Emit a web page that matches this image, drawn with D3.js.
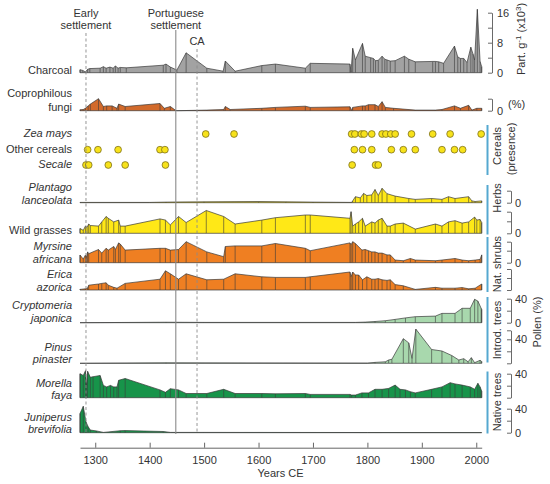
<!DOCTYPE html>
<html><head><meta charset="utf-8">
<script src="https://cdn.jsdelivr.net/npm/d3@7"></script>
<style>
body{margin:0;background:#fff}
svg{display:block}
text{font-family:"Liberation Sans",Arial,Helvetica,sans-serif;fill:#333}
</style>
</head><body>
<svg id="c" width="550" height="484"></svg>
<script>
// ---------------- DATA ----------------
const yearTicks = [1300,1400,1500,1600,1700,1800,1900,2000];
const events = [["Early","settlement",1283],["Portuguese","settlement",1448],["CA","",1487]];

// charcoal, particles g-1 (x10^3)
const charcoal = [[1272,0.8],[1277,0.6],[1282,0.2],[1286,0.9],[1290,1.1],[1309,1.2],[1315,1.6],[1320,1.2],[1327,1.5],[1333,1.2],[1337,1.8],[1342,1.2],[1346,1.4],[1357,1.3],[1425,2.0],[1430,2.3],[1438,1.5],[1450,0.7],[1467,5.3],[1505,1.2],[1535,0.4],[1539,3.1],[1557,0.4],[1606,1.9],[1631,2.3],[1686,1.2],[1695,2.5],[1768,2.3],[1770,0.2],[1773,6.5],[1778,3.4],[1791,7.8],[1796,4.4],[1806,4.0],[1811,3.8],[1815,3.2],[1820,3.3],[1827,4.4],[1832,3.6],[1836,3.4],[1842,3.1],[1851,3.2],[1868,4.4],[1876,3.6],[1888,2.9],[1920,3.0],[1925,3.0],[1931,2.9],[1940,2.5],[1960,7.1],[1966,4.2],[1971,3.8],[1977,3.8],[1983,2.7],[1990,6.8],[1994,5.0],[1997,3.4],[2002,16.9],[2007,3.0],[2010,1.6]];

// coprophilous fungi (%)
const fungi = [[1272,1.5],[1278,2],[1282,4],[1287,8],[1291,11],[1306,20],[1315,7],[1321,8],[1331,8],[1340,4],[1343,11],[1355,7],[1419,12],[1427,4],[1438,7],[1447,1],[1450,0],[1505,1],[1536,2],[1539,7],[1548,2],[1606,4],[1631,5.5],[1686,7.5],[1695,5.5],[1768,6.5],[1771,0.5],[1773,5.5],[1791,8],[1796,8],[1802,10],[1814,10],[1820,7],[1827,15],[1833,5.5],[1848,4],[1888,1],[1925,1],[1937,2],[1960,8],[1971,4],[1986,9],[1992,1],[2001,4],[2010,4]];

// cereals (presence, years)
const zeaMays = [1503,1555,1771,1777,1789,1794,1808,1827,1834,1843,1851,1881,1920,1952,2009];
const otherCereals = [1286,1305,1342,1419,1428,1776,1791,1808,1844,1866,1888,1937,1960,1975];
const secale = [1283,1288,1324,1355,1429,1772,1815,1820];

// pollen (%)
const plantago = [[1272,0.5],[1400,0.5],[1430,1],[1500,1.5],[1600,2],[1650,1.5],[1700,1],[1771,0.5],[1773,3],[1778,10],[1787,8],[1793,15.5],[1799,12],[1808,13],[1814,22],[1820,12],[1827,24],[1836,15],[1851,11],[1876,7],[1888,5.5],[1918,7],[1937,5.5],[1949,10],[1961,7],[1986,10],[1992,3],[1998,2],[2010,3]];
const wildGrasses = [[1272,8],[1278,5],[1282,12],[1285,10],[1288,15.5],[1291,13],[1306,12],[1312,19],[1320,28],[1324,25],[1334,19],[1343,22],[1346,12],[1355,12],[1419,24],[1429,22],[1438,14],[1453,28],[1467,18],[1504,38],[1536,28],[1557,15.5],[1606,22],[1631,26],[1686,30.5],[1695,30.5],[1768,25],[1770,36],[1773,12],[1778,15.5],[1784,19],[1791,25],[1796,12],[1808,19],[1814,17],[1820,22],[1827,25],[1836,12],[1842,12],[1851,15.5],[1866,17],[1888,7],[1925,15.5],[1937,12],[1949,19],[1961,21],[1974,17],[1986,19],[1997,27],[2001,22],[2007,23],[2010,18]];
const myrsine = [[1272,12.8],[1278,6],[1282,12.8],[1284,9],[1286,18],[1288,15],[1306,22],[1312,16],[1320,24],[1324,21],[1334,27],[1337,22],[1343,33],[1346,31],[1355,21],[1419,24],[1429,24],[1438,21],[1453,22],[1467,35],[1505,18],[1536,10],[1539,27],[1557,28],[1606,28],[1631,32],[1686,24],[1695,20],[1768,33],[1770,30],[1773,35],[1778,32],[1790,21],[1796,22],[1802,20],[1808,18],[1814,18],[1820,16],[1827,16],[1836,13],[1842,13],[1851,4.4],[1866,3.3],[1879,7],[1888,4.4],[1925,3.3],[1937,4.4],[1961,7],[1974,4.4],[1986,3.3],[1998,4.4],[2007,5.5],[2010,13]];
const erica = [[1272,1],[1282,2],[1286,3.3],[1288,8],[1306,10],[1312,11],[1320,12],[1324,8],[1334,4.4],[1340,3],[1355,11],[1419,18],[1429,32],[1438,27],[1453,18],[1467,27],[1505,17],[1536,18],[1557,27],[1606,22],[1631,21],[1686,21],[1695,22],[1768,30],[1770,22],[1773,30],[1778,25],[1784,25],[1791,17],[1799,22],[1808,18],[1814,18],[1820,19],[1827,17],[1836,16],[1842,17],[1851,9],[1866,7],[1888,1],[1925,4.4],[1937,3],[1961,3],[1974,4],[1986,2],[1998,3],[2010,10]];
const cryptomeria = [[1272,0],[1430,0.8],[1500,0.5],[1778,0.5],[1796,1],[1814,2],[1833,3.3],[1851,5.5],[1870,8],[1888,10],[1925,11],[1937,15.5],[1961,15.5],[1974,24],[1989,24],[1997,39],[2003,36],[2009,24],[2010,22]];
const pinus = [[1272,0],[1430,0.8],[1800,0.3],[1814,1.5],[1833,2.5],[1839,5.5],[1845,6.7],[1866,41],[1876,34],[1882,8],[1889,57],[1918,23],[1937,20.5],[1955,13],[1968,5.5],[1977,7.7],[1985,2.5],[1991,9.4],[1997,1],[2007,5],[2010,3]];
const morella = [[1272,40],[1278,37],[1282,45],[1284,20],[1286,44],[1291,34],[1296,35],[1309,37],[1315,20.5],[1321,18],[1328,20.5],[1334,18],[1340,18],[1343,29],[1355,32],[1419,13],[1429,9],[1438,15],[1453,13],[1467,7],[1505,7],[1536,14],[1557,7],[1606,7],[1631,6.5],[1686,7],[1695,5.5],[1768,5.5],[1771,4.4],[1778,4.4],[1790,8],[1802,8],[1814,14],[1827,14],[1839,15.5],[1851,21],[1860,14],[1870,13],[1879,10],[1888,8],[1918,14],[1937,18],[1952,25],[1961,23],[1974,21],[1989,18],[1997,14],[2003,24],[2007,18],[2010,11]];
const juniperus = [[1272,32],[1278,44],[1283,18],[1287,10],[1291,4.4],[1302,3],[1315,0.5],[1346,3.3],[1355,3.5],[1425,2],[1438,0.5],[1500,0.5],[1800,0.3],[2010,0.2]];

// ---------------- LAYOUT ----------------
const svg = d3.select("#c");
const x = d3.scaleLinear().domain([1272,2010]).range([80,481.7]);
const ink = "#3a3a3a";
const FS = 11;

const panels = [
  {lab:["Charcoal"], it:false, data:charcoal, base:72.7, unit:16, px:60, fill:"#a2a2a2", ax:492, axMax:16, ticks:[0,4,8,12,16], show:[0,8,16], pad:5},
  {lab:["Coprophilous","fungi"], it:false, data:fungi, base:110.7, unit:40, px:24, fill:"#d26a2b", ax:492, axMax:20, ticks:[0,20], show:[0], pad:5},
  {lab:["Plantago","lanceolata"], it:true, data:plantago, base:202.7, unit:40, px:24, fill:"#ffe817", ax:511, axMax:20, ticks:[0,20], show:[0], pad:4},
  {lab:["Wild grasses"], it:false, data:wildGrasses, base:233.3, unit:40, px:24, fill:"#ffe817", ax:511, axMax:36, ticks:[0,20,36], show:[0], pad:4},
  {lab:["Myrsine","africana"], it:true, data:myrsine, base:262.7, unit:40, px:24, fill:"#ef7f22", ax:511, axMax:35, ticks:[0,20,35], show:[0], pad:4},
  {lab:["Erica","azorica"], it:true, data:erica, base:290, unit:40, px:24, fill:"#ef7f22", ax:511, axMax:35, ticks:[0,20,35], show:[], pad:4},
  {lab:["Cryptomeria","japonica"], it:true, data:cryptomeria, base:322.7, unit:40, px:24, fill:"#a8d8ad", ax:511, axMax:40, ticks:[0,20,40], show:[0,40], pad:4},
  {lab:["Pinus","pinaster"], it:true, data:pinus, base:363.3, unit:40, px:24, fill:"#a8d8ad", ax:511, axMax:55, ticks:[0,20,40,55], show:[40], pad:4},
  {lab:["Morella","faya"], it:true, data:morella, base:397.7, unit:40, px:24, fill:"#17944a", ax:511, axMax:40, ticks:[0,20,40], show:[40], pad:4},
  {lab:["Juniperus","brevifolia"], it:true, data:juniperus, base:432.7, unit:40, px:24, fill:"#17944a", ax:511, axMax:40, ticks:[0,20,40], show:[0,40], pad:4}
];
const labelCenters = {
  "Charcoal":[70], "Coprophilous fungi":[93,107], "Plantago lanceolata":[186.7,200],
  "Wild grasses":[230], "Myrsine africana":[246,258.5], "Erica azorica":[274.3,286.5],
  "Cryptomeria japonica":[305,318.3], "Pinus pinaster":[346.7,359.3],
  "Morella faya":[382.7,395], "Juniperus brevifolia":[416.7,428.5]
};

const gAreas = svg.append("g");
panels.forEach(p => {
  const y = d3.scaleLinear().domain([0,p.unit]).range([p.base, p.base - p.px]);
  const area = d3.area().x(d => x(d[0])).y0(p.base).y1(d => y(d[1]));
  const g = gAreas.append("g");
  g.append("path").datum(p.data).attr("d", area)
    .attr("fill", p.fill).attr("stroke", ink).attr("stroke-width", 0.7).attr("stroke-linejoin","round");
  g.selectAll("line.s").data(p.data).join("line").attr("class","s")
    .attr("x1", d => x(d[0])).attr("x2", d => x(d[0]))
    .attr("y1", p.base).attr("y2", d => y(d[1]))
    .attr("stroke", ink).attr("stroke-width", 0.6);
  // right axis
  const ya = d3.scaleLinear().domain([0,p.axMax]).range([p.base, y(p.axMax)]);
  const ag = svg.append("g").attr("transform", `translate(${p.ax},0)`)
    .call(d3.axisRight(ya).tickValues(p.ticks).tickSizeInner(-4).tickSizeOuter(0).tickPadding(p.pad)
      .tickFormat(d => p.show.includes(d) ? d : ""));
  ag.selectAll("path,line").attr("stroke", "#444").attr("stroke-width", 0.8);
  ag.selectAll("text").attr("font-size", FS).attr("fill", "#333")
    .attr("font-family", '"Liberation Sans",Arial,sans-serif');
  // left label
  const key = p.lab.join(" ");
  p.lab.forEach((t,i) => {
    svg.append("text").attr("x", 72).attr("y", labelCenters[key][i] + 4)
      .attr("text-anchor","end").attr("font-size", FS)
      .attr("font-style", p.it ? "italic" : "normal").text(t);
  });
});

// cereals
const cereals = [["Zea mays", true, zeaMays, 134], ["Other cereals", false, otherCereals, 149.7], ["Secale", true, secale, 165]];
const cLabelY = [132.7, 149.3, 164.3];
cereals.forEach((c,i) => {
  svg.append("g").selectAll("circle").data(c[2]).join("circle")
    .attr("cx", d => x(d)).attr("cy", c[3]).attr("r", 3.4)
    .attr("fill", "#f7e21b").attr("stroke", "#6e6216").attr("stroke-width", 0.7);
  svg.append("text").attr("x", 72).attr("y", cLabelY[i] + 4).attr("text-anchor","end")
    .attr("font-size", FS).attr("font-style", c[1] ? "italic" : "normal").text(c[0]);
});

// event lines
const evX = events.map(e => x(e[2]));
svg.append("line").attr("x1",evX[0]).attr("x2",evX[0]).attr("y1",33).attr("y2",434)
  .attr("stroke","#8a8a8a").attr("stroke-width",0.9).attr("stroke-dasharray","3,2.5");
svg.append("line").attr("x1",evX[1]).attr("x2",evX[1]).attr("y1",30).attr("y2",434)
  .attr("stroke","#8a8a8a").attr("stroke-width",1.1);
svg.append("line").attr("x1",evX[2]).attr("x2",evX[2]).attr("y1",49).attr("y2",434)
  .attr("stroke","#8a8a8a").attr("stroke-width",0.9).attr("stroke-dasharray","3,2.5");
events.forEach((e,i) => {
  if (i < 2) {
    svg.append("text").attr("x", evX[i]).attr("y", 17).attr("text-anchor","middle").attr("font-size",FS).text(e[0]);
    svg.append("text").attr("x", evX[i]).attr("y", 28.5).attr("text-anchor","middle").attr("font-size",FS).text(e[1]);
  } else {
    svg.append("text").attr("x", evX[i]).attr("y", 45).attr("text-anchor","middle").attr("font-size",FS).text(e[0]);
  }
});

// bottom axis
const bx = svg.append("g").attr("transform","translate(0,447.7)")
  .call(d3.axisBottom(x).tickValues(yearTicks).tickSizeInner(-5).tickSizeOuter(0).tickPadding(9).tickFormat(d3.format("d")));
bx.selectAll("path,line").attr("stroke","#555").attr("stroke-width",0.9);
bx.selectAll("text").attr("font-size",FS).attr("fill","#333").attr("font-family",'"Liberation Sans",Arial,sans-serif');
svg.append("text").attr("x",280.5).attr("y",477).attr("text-anchor","middle").attr("font-size",FS).text("Years CE");

// blue group brackets
const blue = "#55a8d0";
const groups = [
  {y0:125, y1:175, lines:[["Cereals",497.5,146],["(presence)",511,149]]},
  {y0:185, y1:234.5, lines:[["Herbs",497.5,198]]},
  {y0:237, y1:292, lines:[["Nat. shrubs",497.5,264]]},
  {y0:297, y1:362.5, lines:[["Introd. trees",497.5,330]]},
  {y0:371.5, y1:433.5, lines:[["Native trees",497.5,402]]}
];
groups.forEach(gr => {
  svg.append("line").attr("x1",487.5).attr("x2",487.5).attr("y1",gr.y0).attr("y2",gr.y1)
    .attr("stroke",blue).attr("stroke-width",2);
  gr.lines.forEach(l => {
    svg.append("text").attr("transform",`translate(${l[1]},${l[2]}) rotate(-90)`)
      .attr("text-anchor","middle").attr("dy","0.35em").attr("font-size",FS).text(l[0]);
  });
});
svg.append("text").attr("transform","translate(537,322) rotate(-90)")
  .attr("text-anchor","middle").attr("dy","0.35em").attr("font-size",FS).text("Pollen (%)");
svg.append("text").attr("x",508).attr("y",108).attr("font-size",FS).text("(%)");

// charcoal units label
const pt = svg.append("text").attr("transform","translate(521,39) rotate(-90)")
  .attr("text-anchor","middle").attr("dy","0.35em").attr("font-size",FS);
pt.append("tspan").text("Part. g");
pt.append("tspan").attr("dy",-4).attr("font-size",8).text("-1");
pt.append("tspan").attr("dy",4).text(" (x10");
pt.append("tspan").attr("dy",-4).attr("font-size",8).text("3");
pt.append("tspan").attr("dy",4).text(")");
</script>
</body></html>
